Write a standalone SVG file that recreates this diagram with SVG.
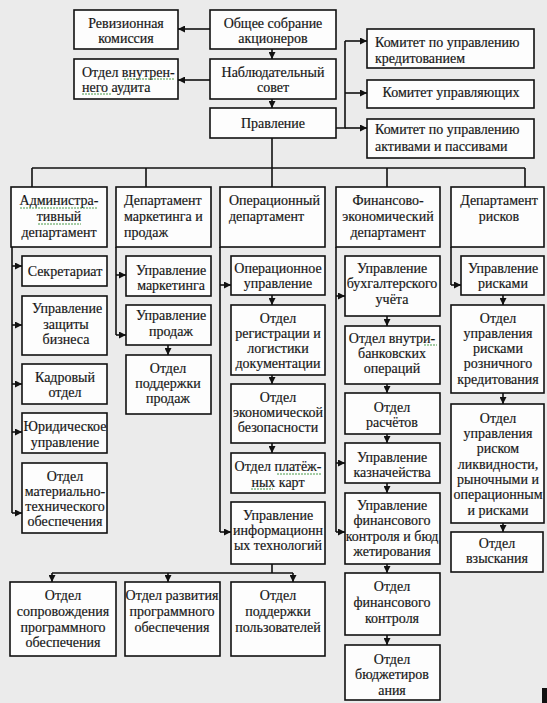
<svg xmlns="http://www.w3.org/2000/svg" width="547" height="703" viewBox="0 0 547 703">
<style>
.b{fill:#fdfdfd;stroke:#111;stroke-width:1.6}
.t{font-family:'Liberation Serif','DejaVu Serif',serif;font-size:14px;fill:#111;stroke:#333;stroke-width:0.2;text-anchor:middle}
.l{text-anchor:start}
.c{fill:none;stroke:#111;stroke-width:1.6}
.a{marker-end:url(#ah)}
.sp{fill:none;stroke:#4a9a4a;stroke-width:1;stroke-dasharray:2,1}
</style>
<defs>
<marker id="ah" viewBox="0 0 8 8" refX="8" refY="4" markerWidth="7" markerHeight="7" markerUnits="userSpaceOnUse" orient="auto"><path d="M0,0 L8,4 L0,8 z" fill="#111"/></marker>
</defs>
<rect width="547" height="703" fill="#ebebeb"/>

<g id="connectors">
<path class="c a" d="M210,29 H178"/>
<path class="c a" d="M210,80 H178"/>
<path class="c a" d="M272,49 V59"/>
<path class="c a" d="M272,99 V108"/>
<path class="c" d="M336,128 H345 V41"/>
<path class="c a" d="M345,41 H367"/>
<path class="c a" d="M345,93 H367"/>
<path class="c a" d="M345,128 H367"/>
<path class="c" d="M272,138 V187"/>
<path class="c" d="M32,168 H525"/>
<path class="c" d="M32,168 V187 M146,168 V187 M387,168 V187 M525,168 V187"/>
<path class="c" d="M12,247 V513"/>
<path class="c a" d="M12,266 H22"/>
<path class="c a" d="M12,325 H22"/>
<path class="c a" d="M12,384 H22"/>
<path class="c a" d="M12,432 H22"/>
<path class="c a" d="M12,513 H22"/>
<path class="c" d="M116,247 V335"/>
<path class="c a" d="M116,275 H126"/>
<path class="c a" d="M116,335 H126"/>
<path class="c a" d="M168,345 V355"/>
<path class="c" d="M220,247 V532"/>
<path class="c a" d="M220,285 H231"/>
<path class="c a" d="M220,532 H231"/>
<path class="c a" d="M272,295 V305"/>
<path class="c a" d="M272,375 V384"/>
<path class="c a" d="M272,443 V453"/>
<path class="c" d="M272,564 V573 M52,573 H293"/>
<path class="c a" d="M52,573 V582"/>
<path class="c a" d="M168,573 V582"/>
<path class="c a" d="M293,573 V582"/>
<path class="c" d="M336,247 V532"/>
<path class="c a" d="M336,296 H345"/>
<path class="c a" d="M336,463 H345"/>
<path class="c a" d="M336,532 H345"/>
<path class="c a" d="M387,316 V326"/>
<path class="c a" d="M387,384 V393"/>
<path class="c a" d="M387,434 V443"/>
<path class="c a" d="M387,483 V493"/>
<path class="c a" d="M387,564 V573"/>
<path class="c a" d="M387,635 V645"/>
<path class="c" d="M451,247 V285"/>
<path class="c a" d="M451,285 H461"/>
<path class="c a" d="M503,295 V305"/>
<path class="c a" d="M503,393 V404"/>
<path class="c a" d="M503,523 V532"/>
</g>

<g id="rev"><rect class="b" x="74" y="10" width="104" height="39"/><text class="t" x="126" y="27.5">Ревизионная<tspan x="126" y="42.5">комиссия</tspan></text></g>
<g id="gsm"><rect class="b" x="210" y="10" width="126" height="39"/><text class="t" x="273" y="27.5">Общее собрание<tspan x="273" y="42.5">акционеров</tspan></text></g>
<g id="audit"><rect class="b" x="74" y="59" width="104" height="40"/><text class="t l" x="82" y="76.5">Отдел внутрен-<tspan x="82" y="91.5">него аудита</tspan></text></g>
<g id="board"><rect class="b" x="210" y="59" width="126" height="40"/><text class="t" x="273" y="76.5">Наблюдательный<tspan x="273" y="91.5">совет</tspan></text></g>
<g id="prav"><rect class="b" x="210" y="108" width="126" height="30"/><text class="t" x="273" y="127.5">Правление</text></g>
<g id="k1"><rect class="b" x="367" y="29" width="167" height="39"/><text class="t l" x="375" y="47">Комитет по управлению<tspan x="375" y="63">кредитованием</tspan></text></g>
<g id="k2"><rect class="b" x="367" y="80" width="167" height="28"/><text class="t" x="451" y="97">Комитет управляющих</text></g>
<g id="k3"><rect class="b" x="367" y="119" width="167" height="39"/><text class="t l" x="375" y="134">Комитет по управлению<tspan x="375" y="151">активами и пассивами</tspan></text></g>

<g id="adm"><rect class="b" x="11" y="187" width="96" height="60"/><text class="t" x="59" y="205">Администра-<tspan x="59" y="221">тивный</tspan><tspan x="59" y="237">департамент</tspan></text></g>
<g id="mkt"><rect class="b" x="116" y="187" width="95" height="60"/><text class="t l" x="124" y="205">Департамент<tspan x="124" y="221">маркетинга и</tspan><tspan x="124" y="237">продаж</tspan></text></g>
<g id="op"><rect class="b" x="220" y="187" width="105" height="60"/><text class="t l" x="229" y="205">Операционный<tspan x="229" y="221">департамент</tspan></text></g>
<g id="fin"><rect class="b" x="336" y="187" width="104" height="60"/><text class="t" x="388" y="205">Финансово-<tspan x="388" y="221">экономический</tspan><tspan x="388" y="237">департамент</tspan></text></g>
<g id="risk"><rect class="b" x="451" y="187" width="93" height="60"/><text class="t" x="499" y="205">Департамент<tspan x="499" y="221">рисков</tspan></text></g>

<g id="sekr"><rect class="b" x="22" y="256" width="85" height="30"/><text class="t" x="65" y="275.5">Секретариат</text></g>
<g id="zashch"><rect class="b" x="22" y="296" width="85" height="59"/><text class="t" x="67" y="313">Управление<tspan x="66" y="328.5">защиты</tspan><tspan x="66" y="344">бизнеса</tspan></text></g>
<g id="kadr"><rect class="b" x="22" y="364" width="85" height="40"/><text class="t" x="65" y="381.5">Кадровый<tspan x="65" y="397">отдел</tspan></text></g>
<g id="yur"><rect class="b" x="22" y="413" width="85" height="40"/><text class="t" x="65" y="431">Юридическое<tspan x="65" y="446.5">управление</tspan></text></g>
<g id="mto"><rect class="b" x="22" y="463" width="85" height="70"/><text class="t" x="65" y="480.5">Отдел<tspan x="65" y="495.5">материально-</tspan><tspan x="65" y="510.5">технического</tspan><tspan x="65" y="525.5">обеспечения</tspan></text></g>

<g id="umkt"><rect class="b" x="126" y="256" width="85" height="40"/><text class="t" x="171" y="274.5">Управление<tspan x="171" y="290">маркетинга</tspan></text></g>
<g id="uprod"><rect class="b" x="126" y="305" width="85" height="40"/><text class="t" x="171" y="320">Управление<tspan x="171" y="336">продаж</tspan></text></g>
<g id="opp"><rect class="b" x="126" y="355" width="85" height="59"/><text class="t" x="168" y="372.5">Отдел<tspan x="168" y="387.5">поддержки</tspan><tspan x="168" y="402.5">продаж</tspan></text></g>

<g id="oupr"><rect class="b" x="231" y="256" width="94" height="39"/><text class="t" x="278" y="272.5">Операционное<tspan x="278" y="288">управление</tspan></text></g>
<g id="oreg"><rect class="b" x="231" y="305" width="94" height="70"/><text class="t" x="278" y="322.5">Отдел<tspan x="278" y="337.5">регистрации и</tspan><tspan x="278" y="352.5">логистики</tspan><tspan x="278" y="367.5">документации</tspan></text></g>
<g id="oeb"><rect class="b" x="231" y="384" width="94" height="59"/><text class="t" x="278" y="401.5">Отдел<tspan x="278" y="416.5">экономической</tspan><tspan x="278" y="432">безопасности</tspan></text></g>
<g id="opk"><rect class="b" x="231" y="453" width="94" height="40"/><text class="t" x="278" y="471">Отдел платёж-<tspan x="278" y="486.5">ных карт</tspan></text></g>
<g id="uit"><rect class="b" x="231" y="502" width="94" height="62"/><text class="t" x="278" y="519.5">Управление<tspan x="278" y="535">информационн</tspan><tspan x="278" y="550">ых технологий</tspan></text></g>

<g id="osopr"><rect class="b" x="10" y="582" width="106" height="74"/><text class="t" x="63" y="600">Отдел<tspan x="63" y="616">сопровождения</tspan><tspan x="63" y="631.5">программного</tspan><tspan x="63" y="647">обеспечения</tspan></text></g>
<g id="orazv"><rect class="b" x="125" y="582" width="95" height="74"/><text class="t" x="172" y="600">Отдел развития<tspan x="172" y="616">программного</tspan><tspan x="172" y="631.5">обеспечения</tspan></text></g>
<g id="opol"><rect class="b" x="231" y="582" width="94" height="74"/><text class="t" x="278" y="600">Отдел<tspan x="278" y="616">поддержки</tspan><tspan x="278" y="631.5">пользователей</tspan></text></g>

<g id="fbu"><rect class="b" x="345" y="256" width="95" height="60"/><text class="t" x="392" y="272.5">Управление<tspan x="392" y="288">бухгалтерского</tspan><tspan x="392" y="304">учёта</tspan></text></g>
<g id="fvn"><rect class="b" x="345" y="326" width="95" height="58"/><text class="t" x="392" y="343">Отдел внутри-<tspan x="392" y="357.5">банковских</tspan><tspan x="392" y="372.5">операций</tspan></text></g>
<g id="fras"><rect class="b" x="345" y="393" width="95" height="41"/><text class="t" x="392" y="411.5">Отдел<tspan x="392" y="427">расчётов</tspan></text></g>
<g id="fkaz"><rect class="b" x="345" y="443" width="95" height="40"/><text class="t" x="392" y="461.5">Управление<tspan x="392" y="476.5">казначейства</tspan></text></g>
<g id="ffk"><rect class="b" x="345" y="493" width="95" height="71"/><text class="t" x="392" y="509.5">Управление<tspan x="392" y="525">финансового</tspan><tspan x="392" y="540.5">контроля и бюд</tspan><tspan x="392" y="556">жетирования</tspan></text></g>
<g id="fofk"><rect class="b" x="345" y="573" width="95" height="62"/><text class="t" x="392" y="590.5">Отдел<tspan x="392" y="607">финансового</tspan><tspan x="392" y="623">контроля</tspan></text></g>
<g id="fbud"><rect class="b" x="345" y="645" width="95" height="55"/><text class="t" x="392" y="663.5">Отдел<tspan x="392" y="679">бюджетиров</tspan><tspan x="392" y="694.5">ания</tspan></text></g>

<g id="rupr"><rect class="b" x="461" y="256" width="83" height="39"/><text class="t" x="503" y="272.5">Управление<tspan x="503" y="288">рисками</tspan></text></g>
<g id="rroz"><rect class="b" x="451" y="305" width="93" height="88"/><text class="t" x="498" y="322.5">Отдел<tspan x="498" y="337.5">управления</tspan><tspan x="498" y="352.5">рисками</tspan><tspan x="498" y="367.5">розничного</tspan><tspan x="498" y="383.5">кредитования</tspan></text></g>
<g id="rlik"><rect class="b" x="451" y="404" width="93" height="119"/><text class="t" x="498" y="422.5">Отдел<tspan x="498" y="438">управления</tspan><tspan x="498" y="453">риском</tspan><tspan x="498" y="468.5">ликвидности,</tspan><tspan x="498" y="483.5">рыночными и</tspan><tspan x="498" y="499">операционным</tspan><tspan x="498" y="514.5">и рисками</tspan></text></g>
<g id="rvz"><rect class="b" x="451" y="532" width="92" height="40"/><text class="t" x="497" y="547.5">Отдел<tspan x="497" y="563">взыскания</tspan></text></g>

<g id="spellmarks">
<path class="sp" d="M20,208 H98 M38,224 H81 M124,79 H175 M82,94 H112 M424,345 H437 M277,474 H322 M251,489 H273"/>
</g>

<rect x="542" y="688" width="5" height="15" fill="#111"/>
</svg>
